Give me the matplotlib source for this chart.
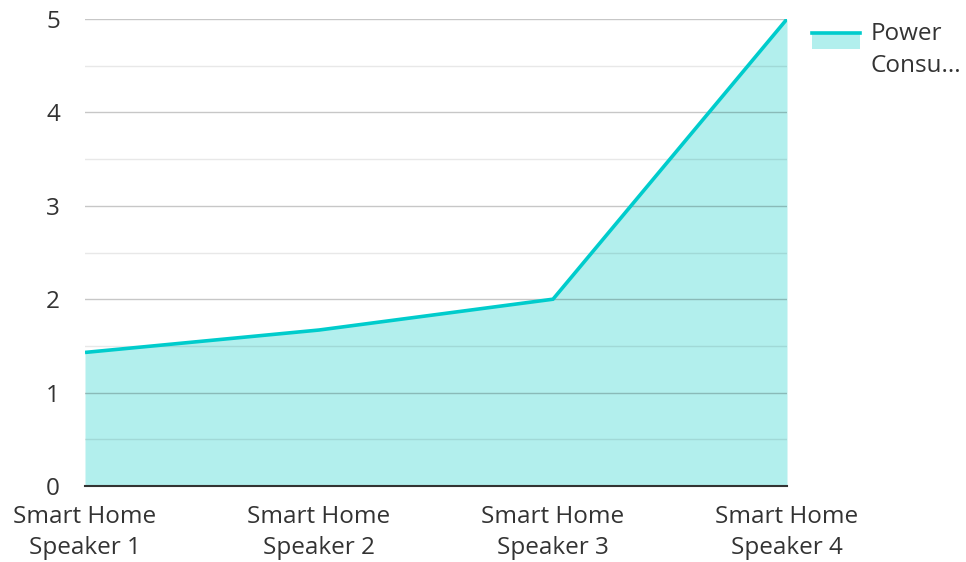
import matplotlib
matplotlib.use('Agg')
from matplotlib import pyplot as plt
from matplotlib.patches import Rectangle
from matplotlib.lines import Line2D
from matplotlib.legend_handler import HandlerBase

# Data
categories = ['Smart Home\nSpeaker 1', 'Smart Home\nSpeaker 2', 'Smart Home\nSpeaker 3', 'Smart Home\nSpeaker 4']
power = [1.43, 1.67, 2.0, 5.0]
seriesName = 'Power\nConsu...'

lineColor = '#00CCCC'
fillColor = '#B2EFED'
textColor = '#333333'
fontSize = 17.5

plt.rcParams['font.family'] = ['Open Sans', 'DejaVu Sans']


# legend key: line on top of a filled strip
class AreaHandler(HandlerBase):
	def create_artists(self, legend, orig_handle, xdescent, ydescent, width, height, fontsize, trans):
		top = height * 1.55
		rect = Rectangle((-xdescent, top - 12), width, 12, facecolor=fillColor, edgecolor='none', transform=trans)
		line = Line2D([-xdescent, width - xdescent], [top, top], color=lineColor, linewidth=2.6, transform=trans)
		return [rect, line]


fig = plt.figure(figsize=(9.66, 5.62), dpi=100)
ax = fig.add_axes([85 / 966, 1 - 486 / 562, (787 - 85) / 966, (486 - 19) / 562])

x = list(range(len(categories)))
ax.fill_between(x, power, 0, color=fillColor, linewidth=0, zorder=1)
ax.plot(x, power, color=lineColor, linewidth=2.6, zorder=3, solid_capstyle='butt')

ax.set_xlim(0, len(categories) - 1)
ax.set_ylim(0, 5)
ax.set_xticks(x)
ax.set_xticklabels(categories, fontsize=fontSize, color=textColor, linespacing=1.35)
ax.set_yticks([0, 1, 2, 3, 4, 5])
ax.set_yticks([0.5, 1.5, 2.5, 3.5, 4.5], minor=True)
ax.tick_params(axis='y', which='both', length=0, labelsize=fontSize, labelcolor=textColor, pad=18)
ax.tick_params(axis='x', length=0, pad=14)

# grid lines
ax.grid(True, axis='y', which='major', color='#000000', alpha=0.22, linewidth=1, zorder=2)
ax.grid(True, axis='y', which='minor', color='#000000', alpha=0.09, linewidth=1, zorder=2)
ax.set_axisbelow(False)

for side in ['left', 'right', 'top']:
	ax.spines[side].set_visible(False)
ax.spines['bottom'].set_color(textColor)
ax.spines['bottom'].set_linewidth(1.5)
ax.spines['bottom'].set_zorder(4)

leg = fig.legend(['area'], [seriesName], handler_map={str: AreaHandler()}, loc='upper left',
	bbox_to_anchor=(790 / 966, 1 - 0 / 562), frameon=False, fontsize=fontSize,
	handlelength=2.0, handletextpad=0.4, labelcolor=textColor)
for t in leg.get_texts():
	t.set_linespacing(1.45)

fig.savefig('out.png', dpi=100)
